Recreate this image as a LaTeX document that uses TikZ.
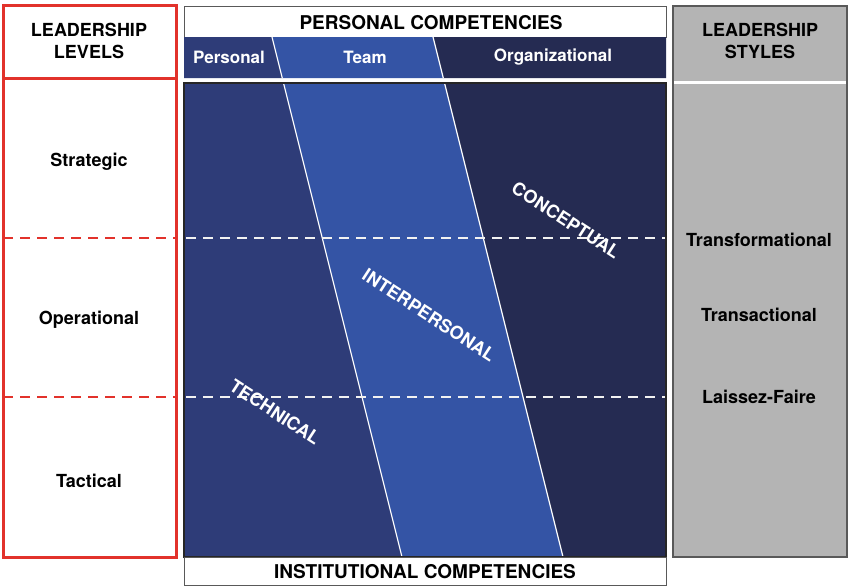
\documentclass[tikz,border=0pt]{standalone}
\usepackage{fontspec}
\setmainfont{TeX Gyre Heros}
\definecolor{cpers}{HTML}{2E3C78}
\definecolor{cteam}{HTML}{3454A5}
\definecolor{corg}{HTML}{252B52}
\definecolor{cred}{HTML}{E2322B}
\definecolor{cgray}{HTML}{B4B4B4}
\tikzset{
  lbl/.style={font=\fontsize{18}{22}\selectfont\bfseries, text=black, align=center, inner sep=0pt},
  hdr/.style={font=\fontsize{19}{22}\selectfont\bfseries, text=black, align=center, inner sep=0pt},
  wlbl/.style={font=\fontsize{17}{19}\selectfont\bfseries, text=white, align=center, inner sep=0pt},
  diag/.style={font=\fontsize{18}{20}\selectfont\bfseries, text=white, inner sep=0pt, rotate=-33},
  reddash/.style={draw=cred, line width=1.5pt, dash pattern=on 10pt off 7pt},
  whitedash/.style={draw=white!90!gray, line width=2.5pt, dash pattern=on 10pt off 7pt},
  sepline/.style={draw=white, line width=1.2pt},
}
\begin{document}
\begin{tikzpicture}[x=1pt,y=-1pt]
\useasboundingbox (0,0) rectangle (850,587);
\fill[white] (0,0) rectangle (850,587);

% ---- left: leadership levels
\draw[reddash] (3,238) -- (176,238);
\draw[reddash] (3,397) -- (176,397);
\draw[cred, line width=3pt] (3,5) rectangle (176,557);
\draw[cred, line width=3pt] (3,78) -- (176,78);
\node[lbl] (ll) at (89,41) {LEADERSHIP\\LEVELS};
\node[lbl] (strat) at (89,162) {Strategic};
\node[lbl] (oper) at (89,320) {Operational};
\node[lbl] (tact) at (89,481) {Tactical};

% ---- top header
\draw[gray!70!black, line width=1pt] (184,6) rectangle (666,37);
\node[hdr] (pc) at (431,23) {PERSONAL COMPETENCIES};
\fill[cpers] (184,37) -- (272,37) -- (282.25,78) -- (184,78) -- cycle;
\fill[cteam] (272,37) -- (433,37) -- (443.25,78) -- (282.25,78) -- cycle;
\fill[corg] (433,37) -- (666,37) -- (666,78) -- (443.25,78) -- cycle;
\draw[sepline] (272,37) -- (282.25,78);
\draw[sepline] (433,37) -- (443.25,78);
\node[wlbl] (hp) at (229,57) {Personal};
\node[wlbl] (ht) at (365,57) {Team};
\node[wlbl] (ho) at (553,57) {Organizational};

% ---- main panel
\fill[cpers] (184,83) -- (283.5,83) -- (402,557) -- (184,557) -- cycle;
\fill[cteam] (283.5,83) -- (444.5,83) -- (563,557) -- (402,557) -- cycle;
\fill[corg] (444.5,83) -- (666,83) -- (666,557) -- (563,557) -- cycle;
\draw[sepline] (283.5,83) -- (402,557);
\draw[sepline] (444.5,83) -- (563,557);
\draw[whitedash] (186,238) -- (665,238);
\draw[whitedash] (186,397) -- (665,397);
\draw[black!85, line width=2pt] (184,83) rectangle (666,557);
\node[diag] (conc) at (566,220) {CONCEPTUAL};
\node[diag] (inter) at (429,315) {INTERPERSONAL};
\node[diag] (tech) at (275,412) {TECHNICAL};

% ---- bottom header
\draw[gray!70!black, line width=1pt] (184,557) rectangle (666,585);
\node[hdr] (ic) at (425,572) {INSTITUTIONAL COMPETENCIES};

% ---- right: leadership styles
\fill[cgray] (673,6) rectangle (847,557);
\draw[white, line width=3pt] (673,82) -- (847,82);
\draw[black!65, line width=1.5pt] (673,6) rectangle (847,557);
\node[lbl] (ls) at (760,41) {LEADERSHIP\\STYLES};
\node[lbl] (trf) at (759,240) {Transformational};
\node[lbl] (trs) at (759,315) {Transactional};
\node[lbl] (lf) at (759,397) {Laissez-Faire};
\end{tikzpicture}
\end{document}
